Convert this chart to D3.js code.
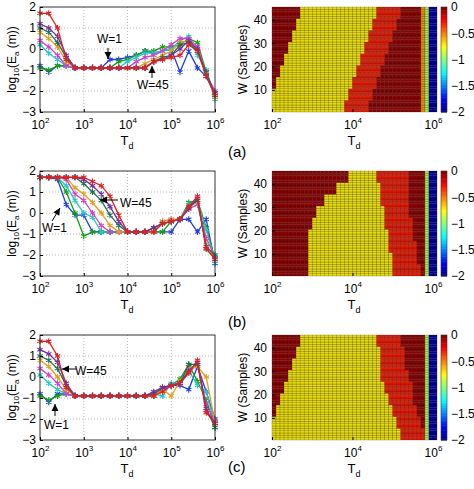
<!DOCTYPE html>
<html><head><meta charset="utf-8">
<script src="https://cdn.jsdelivr.net/npm/d3@7"></script>
<style>body{margin:0;background:#fff}text{font-family:"Liberation Sans",Arial,sans-serif}</style>
</head><body><svg id="c" width="474" height="489"></svg>
<script>
// Td sample points (log10) for line plots
const logTd = d3.range(21).map(i => 2 + i * 0.2);
const seriesW = [1, 7, 13, 19, 25, 31, 38, 45];
const seriesColors = ["#1f3fe0", "#10a010", "#20c8c8", "#d040d0", "#e0a020", "#207050", "#7030a0", "#e02020"];
// panel (a) log10(Ea) per series
const linesA = [
 [-0.8,-1.1,-0.8,-0.8,-0.9,-0.9,-0.9,-0.9,-0.5,-0.5,-0.4,-0.3,-0.1,-0.2,-0.1,0.0,-1.1,-0.1,-0.9,-1.3,-2.1],
 [-0.9,-1.0,-0.8,-0.8,-0.9,-0.9,-0.9,-0.9,-0.9,-0.6,-0.5,-0.3,-0.1,-0.1,0.1,0.1,0.2,0.5,0.3,-1.1,-2.3],
 [0.2,-0.2,-0.5,-0.8,-0.9,-0.9,-0.9,-0.9,-0.9,-0.9,-0.6,-0.4,-0.2,-0.2,-0.1,0.0,0.4,0.6,-0.3,-1.0,-2.4],
 [0.4,0.1,-0.3,-0.8,-0.9,-0.9,-0.9,-0.9,-0.9,-0.9,-0.9,-0.6,-0.4,-0.3,-0.1,0.2,0.5,0.5,0.1,-1.2,-2.0],
 [0.8,0.5,0.1,-0.6,-0.9,-0.9,-0.9,-0.9,-0.9,-0.9,-0.9,-0.9,-0.7,-0.5,-0.3,-0.1,0.3,0.4,0.0,-1.2,-2.3],
 [1.0,0.8,0.3,-0.4,-0.9,-0.9,-0.9,-0.9,-0.9,-0.9,-0.9,-0.9,-0.9,-0.6,-0.4,-0.3,0.2,0.3,-0.1,-1.1,-2.2],
 [1.2,1.0,0.6,-0.3,-0.9,-0.9,-0.9,-0.9,-0.9,-0.9,-0.9,-0.9,-0.9,-0.6,-0.5,-0.3,0.0,0.4,0.0,-1.3,-2.1],
 [1.7,1.7,1.0,-0.5,-0.9,-0.9,-0.9,-0.9,-0.9,-0.9,-0.9,-0.9,-0.9,-0.6,-0.5,-0.4,-0.3,0.2,-0.1,-1.3,-2.2]];
const linesB = [
 [1.7,1.7,1.6,0.4,-0.1,-0.1,-0.9,-0.9,-0.9,-0.9,-0.9,-0.9,-0.9,-0.9,-0.9,-0.9,-0.3,-0.3,-0.9,-0.3,-2.4],
 [1.7,1.7,1.7,1.0,0.0,-1.1,-0.9,-0.9,-0.9,-0.9,-0.9,-0.9,-0.9,-0.9,-0.9,-0.4,-0.3,0.5,0.6,-0.7,-2.2],
 [1.7,1.7,1.7,1.3,0.6,0.0,-0.2,-0.9,-0.9,-0.9,-0.9,-0.9,-0.9,-0.9,-0.5,-0.4,-0.3,0.4,0.5,-0.8,-2.3],
 [1.7,1.7,1.7,1.6,0.9,0.6,0.0,-0.6,-0.9,-0.9,-0.9,-0.9,-0.9,-0.9,-0.4,-0.3,-0.3,0.2,0.4,-1.2,-2.1],
 [1.7,1.7,1.7,1.7,1.2,0.9,0.5,0.0,-0.6,-0.9,-0.9,-0.9,-0.9,-0.9,-0.4,-0.3,-0.3,0.3,0.5,-1.5,-2.2],
 [1.7,1.7,1.7,1.7,1.7,1.4,1.0,0.6,-0.1,-0.6,-0.9,-0.9,-0.9,-0.7,-0.5,-0.4,-0.3,0.3,0.6,-1.6,-2.0],
 [1.7,1.7,1.7,1.7,1.7,1.6,1.3,0.9,0.3,-0.4,-0.9,-0.9,-0.9,-0.7,-0.5,-0.4,-0.3,0.2,0.7,-1.7,-2.2],
 [1.7,1.7,1.7,1.7,1.7,1.7,1.5,1.3,0.8,-0.1,-0.9,-0.9,-0.9,-0.9,-0.5,-0.4,-0.3,0.3,0.8,-1.7,-2.2]];
const linesC = [
 [-0.8,-1.2,-0.8,-0.8,-0.9,-0.9,-0.9,-0.9,-0.9,-0.9,-0.9,-0.9,-0.9,-0.9,-0.5,-0.4,-0.4,-0.6,0.5,-0.7,-2.0],
 [-0.9,-1.1,-0.9,-0.8,-0.9,-0.9,-0.9,-0.9,-0.9,-0.9,-0.9,-0.9,-0.9,-0.9,-0.6,-0.4,-0.1,0.6,-0.2,-1.1,-2.4],
 [0.1,-0.3,-0.6,-0.8,-0.9,-0.9,-0.9,-0.9,-0.9,-0.9,-0.9,-0.9,-0.9,-0.8,-0.9,-0.3,-0.3,0.3,-0.4,-0.7,-2.3],
 [0.4,0.1,-0.3,-0.8,-0.9,-0.9,-0.9,-0.9,-0.9,-0.9,-0.9,-0.9,-0.9,-0.9,-0.6,-0.4,-0.3,0.2,0.6,-1.3,-2.1],
 [0.8,0.5,0.0,-0.6,-0.9,-0.9,-0.9,-0.9,-0.9,-0.9,-0.9,-0.9,-0.9,-0.9,-0.6,-0.9,-0.2,0.4,0.5,0.0,-2.2],
 [1.0,0.8,0.4,-0.4,-0.9,-0.9,-0.9,-0.9,-0.9,-0.9,-0.9,-0.9,-0.9,-0.8,-0.5,-0.4,-0.3,0.6,0.6,-1.5,-2.4],
 [1.3,1.1,0.7,-0.3,-0.9,-0.9,-0.9,-0.9,-0.9,-0.9,-0.9,-0.9,-0.9,-0.7,-0.5,-0.4,-0.3,0.3,0.7,-1.6,-2.2],
 [1.7,1.7,1.0,-0.5,-0.9,-0.9,-0.9,-0.9,-0.9,-0.9,-0.9,-0.9,-0.9,-0.9,-0.7,-0.4,-0.3,0.2,0.8,-1.7,-2.2]];
// heatmap region boundaries (log10 Td) per W group (W 1-5, 6-10, ..., 41-45)
// [yellow start, yellow end, dark-red start, dark-red end]
const regionsA = [[2.0,3.8,4.4,5.7],[2.0,3.95,4.5,5.7],[2.1,4.05,4.6,5.7],[2.2,4.15,4.7,5.7],[2.3,4.25,4.8,5.7],[2.4,4.35,4.9,5.7],[2.5,4.45,5.0,5.7],[2.6,4.55,5.1,5.7],[2.7,4.65,5.2,5.7]];
const regionsB = [[2.9,5.0,5.7,5.8],[2.9,5.0,5.6,5.8],[2.9,4.95,5.6,5.8],[2.9,4.9,5.5,5.8],[3.0,4.85,5.5,5.8],[3.1,4.8,5.4,5.8],[3.3,4.75,5.4,5.8],[3.6,4.7,5.4,5.8],[3.9,4.65,5.4,5.8]];
const regionsC = [[2.0,5.25,5.8,5.8],[2.0,5.1,5.7,5.8],[2.1,5.0,5.6,5.8],[2.2,4.9,5.55,5.8],[2.3,4.8,5.5,5.8],[2.4,4.75,5.4,5.8],[2.5,4.7,5.3,5.8],[2.6,4.7,5.3,5.8],[2.7,4.65,5.25,5.8]];
const regionLevels = {dark: -0.05, yellow: -0.72, orange: -0.3, edge: -0.55, tail: -0.9, blue: -1.9};
const xTicks = [2, 3, 4, 5, 6], yTicks = [-3, -2, -1, 0, 1, 2];
const hmXTicks = [2, 4, 6], hmYTicks = [10, 20, 30, 40], cbTicks = [0, -0.5, -1, -1.5, -2];
const labels = ["(a)", "(b)", "(c)"];
const annotations = [
 [{t:"W=1", x:97, y:43, ax1:108, ay1:48, ax2:108, ay2:59}, {t:"W=45", x:137, y:89, ax1:152, ay1:78, ax2:152, ay2:66}],
 [{t:"W=45", x:120, y:207, ax1:118, ay1:200, ax2:100, ay2:200}, {t:"W=1", x:42, y:232, ax1:52, ay1:221, ax2:60, ay2:208}],
 [{t:"W=45", x:75, y:375, ax1:76, ay1:369, ax2:62, ay2:369}, {t:"W=1", x:44, y:429, ax1:55, ay1:416, ax2:55, ay2:404}]];

function jet(v){ // v in [-2,0]
  const t = (v + 2) / 2;
  const f = x => Math.max(0, Math.min(1, x));
  const r = f(1.5 - Math.abs(4*t - 3)), g = f(1.5 - Math.abs(4*t - 2)), b = f(1.5 - Math.abs(4*t - 1));
  return d3.rgb(r*255, g*255, b*255).toString();
}
function cellValue(reg, lx, w){
  const [y0, y1, d0, d1] = reg[Math.min(8, Math.floor((w-1)/5))];
  if (lx >= 5.95) return regionLevels.blue;
  if (lx >= 5.85) return regionLevels.tail;
  if (lx < y0 - 0.001) return regionLevels.dark;
  if (lx < y1 - 0.001) return regionLevels.yellow;
  if (lx < d0 - 0.001) return regionLevels.orange;
  if (lx < d1 - 0.001) return regionLevels.dark;
  return regionLevels.edge;
}
const svg = d3.select("#c");
const tops = [7, 171, 335], H = 105;
const allLines = [linesA, linesB, linesC], allRegions = [regionsA, regionsB, regionsC];
function supTick(sel){
  sel.each(function(d){
    const t = d3.select(this); t.text(null);
    t.append("tspan").text("10");
    t.append("tspan").attr("dy", -6).attr("font-size", 8).text(d);
  });
}
[0,1,2].forEach(p => {
  const top = tops[p];
  const x = d3.scaleLinear().domain([2,6]).range([40,215]);
  const y = d3.scaleLinear().domain([-3,2]).range([top+H, top]);
  const g = svg.append("g");
  g.selectAll(".gx").data(xTicks.slice(1,-1)).join("line").attr("x1",x).attr("x2",x).attr("y1",top).attr("y2",top+H).attr("stroke","#bbb").attr("stroke-dasharray","1,2");
  g.selectAll(".gy").data(yTicks.slice(1,-1)).join("line").attr("y1",y).attr("y2",y).attr("x1",40).attr("x2",215).attr("stroke","#bbb").attr("stroke-dasharray","1,2");
  const line = d3.line().x((d,i)=>x(logTd[i])).y(d=>y(d));
  allLines[p].forEach((s,k) => {
    g.append("path").attr("d", line(s)).attr("fill","none").attr("stroke", seriesColors[k]).attr("stroke-width",1.3);
    g.selectAll(null).data(s).join("path")
      .attr("transform",(d,i)=>`translate(${x(logTd[i])},${y(d)})`)
      .attr("d", d3.symbol(d3.symbolAsterisk, 26)()).attr("stroke", seriesColors[k]).attr("fill","none").attr("stroke-width",1.1);
  });
  g.append("rect").attr("x",40).attr("y",top).attr("width",175).attr("height",H).attr("fill","none").attr("stroke","#333");
  const ax = g.append("g").attr("transform",`translate(0,${top+H})`).call(d3.axisBottom(x).tickValues(xTicks).tickSizeInner(-3).tickSizeOuter(0));
  ax.select(".domain").remove();
  ax.selectAll("text").attr("font-size",12).attr("dy","1.2em").call(supTick);
  const ay = g.append("g").attr("transform","translate(40,0)").call(d3.axisLeft(y).tickValues(yTicks).tickSizeInner(-3).tickSizeOuter(0).tickFormat(d=>d<0?"\u2212"+(-d):d));
  ay.select(".domain").remove(); ay.selectAll("text").attr("font-size",12).attr("x",-4);
  const xl = g.append("text").attr("x",127).attr("y",top+H+33).attr("text-anchor","middle").attr("font-size",13);
  xl.append("tspan").text("T"); xl.append("tspan").attr("dy",4).attr("font-size",9).text("d");
  const yl = g.append("text").attr("transform",`translate(16,${top+H/2}) rotate(-90)`).attr("text-anchor","middle").attr("font-size",12);
  yl.append("tspan").text("log"); yl.append("tspan").attr("dy",3).attr("font-size",8).text("10");
  yl.append("tspan").attr("dy",-3).text("(E"); yl.append("tspan").attr("dy",3).attr("font-size",8).text("a");
  yl.append("tspan").attr("dy",-3).text(" (m))");
  annotations[p].forEach(a => {
    g.append("text").attr("x",a.x).attr("y",a.y).attr("font-size",12).text(a.t);
    g.append("line").attr("x1",a.ax1).attr("y1",a.ay1).attr("x2",a.ax2).attr("y2",a.ay2).attr("stroke","#000").attr("stroke-width",1);
    const ang = Math.atan2(a.ay2-a.ay1, a.ax2-a.ax1)*180/Math.PI;
    g.append("path").attr("d","M0,0L-7,-3.5L-7,3.5Z").attr("transform",`translate(${a.ax2},${a.ay2}) rotate(${ang})`).attr("fill","#000");
  });
  // heatmap
  const hx = d3.scaleLinear().domain([2,6.1]).range([272,437]);
  const hy = d3.scaleLinear().domain([0.5,45.5]).range([top+H, top]);
  const cells = [];
  for (let w=1; w<=45; w++) for (let i=0; i<41; i++) { const lx = 2 + i*0.1; cells.push({w, lx, v: cellValue(allRegions[p], lx+0.05, w)}); }
  const hg = svg.append("g");
  hg.selectAll("rect").data(cells).join("rect")
    .attr("x", d=>hx(d.lx)).attr("width", hx(2.1)-hx(2))
    .attr("y", d=>hy(d.w+0.5)).attr("height", hy(0)-hy(1))
    .attr("fill", d=>d3.color(jet(d.v)).darker(0.25)).attr("stroke","rgba(0,0,0,0.4)").attr("stroke-width",0.45);
  const hax = hg.append("g").attr("transform",`translate(0,${top+H})`).call(d3.axisBottom(hx).tickValues(hmXTicks).tickSizeInner(-3).tickSizeOuter(0));
  hax.select(".domain").remove(); hax.selectAll("text").attr("font-size",12).attr("dy","1.2em").call(supTick);
  const hay = hg.append("g").attr("transform","translate(272,0)").call(d3.axisLeft(hy).tickValues(hmYTicks).tickSizeInner(-3).tickSizeOuter(0));
  hay.select(".domain").remove(); hay.selectAll("text").attr("font-size",12).attr("x",-5);
  const hxl = hg.append("text").attr("x",354).attr("y",top+H+33).attr("text-anchor","middle").attr("font-size",13);
  hxl.append("tspan").text("T"); hxl.append("tspan").attr("dy",4).attr("font-size",9).text("d");
  hg.append("text").attr("transform",`translate(247,${top+H/2}) rotate(-90)`).attr("text-anchor","middle").attr("font-size",12).text("W (Samples)");
  const cy = d3.scaleLinear().domain([-2,0]).range([top+H, top]);
  hg.selectAll(".cb").data(d3.range(64)).join("rect").attr("x",441).attr("width",6)
    .attr("y", i=>cy(-2+(i+1)*2/64)).attr("height", cy(-2)-cy(-2+2/64)+0.5).attr("fill", i=>jet(-2+(i+0.5)*2/64));
  hg.append("rect").attr("x",441).attr("y",top).attr("width",6).attr("height",H).attr("fill","none").attr("stroke","#333").attr("stroke-width",0.6);
  const cax = hg.append("g").attr("transform","translate(447,0)").call(d3.axisRight(cy).tickValues(cbTicks).tickSizeInner(0).tickSizeOuter(0).tickFormat(d=>d<0?"\u2212"+(-d):d));
  cax.select(".domain").remove(); cax.selectAll("text").attr("font-size",12).attr("x",4);
  svg.append("text").attr("x",228).attr("y",[157,327,472][p]).attr("font-family","Liberation Serif,serif").attr("font-size",15).text(labels[p]);
});
</script></body></html>
